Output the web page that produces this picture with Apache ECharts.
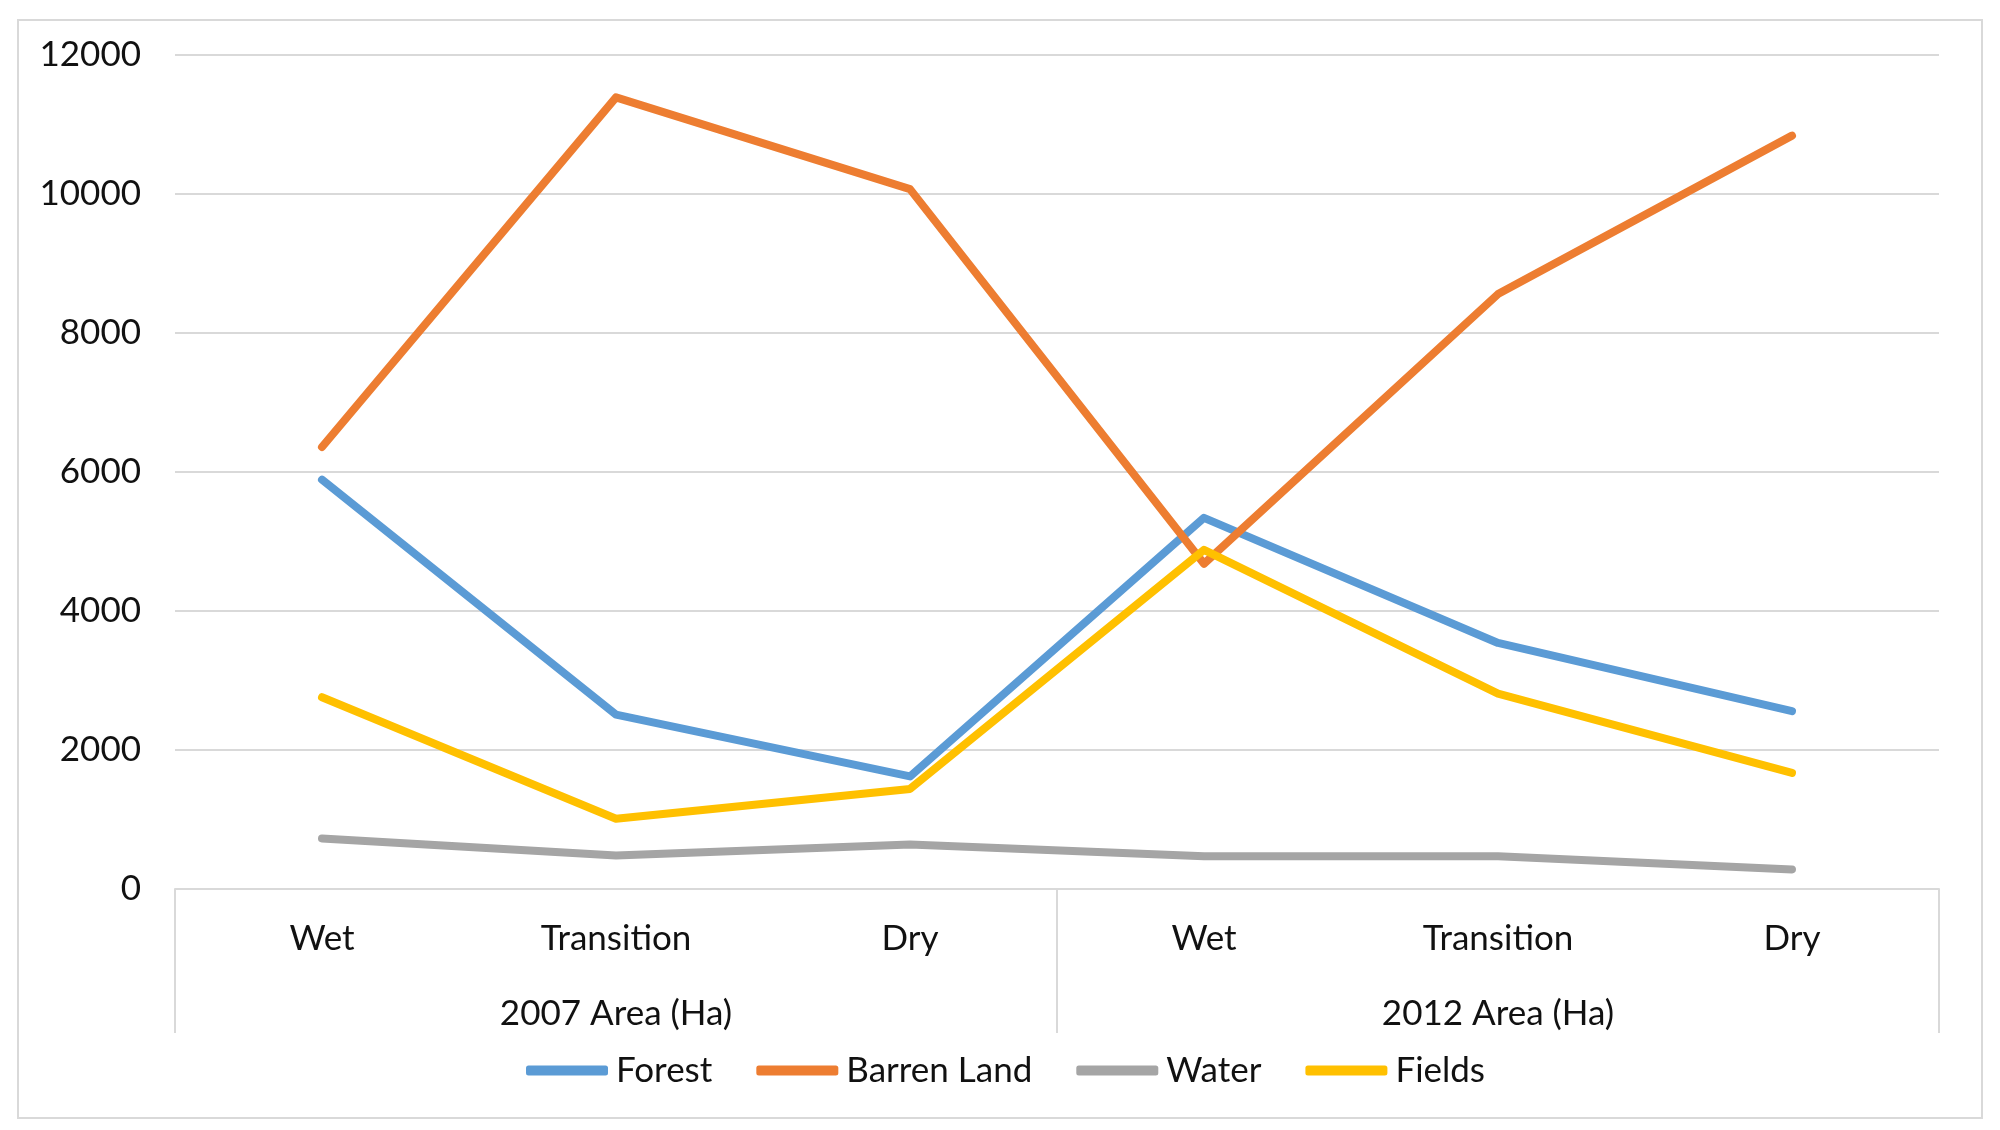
<!DOCTYPE html>
<html lang="en">
<head>
	<meta charset="UTF-8">
	<title>Area by season</title>
	<script src="https://cdn.jsdelivr.net/npm/echarts@6/dist/echarts.min.js"></script>
	<style>
		html, body{
			width: 100%;
			height: 100%;
			padding: 0;
			margin: 0;
			background: #fff;
		}
		#frame{
			position: absolute;
			left: 17px;
			top: 19px;
			width: 1962px;
			height: 1096px;
			border: 2px solid #d9d9d9;
		}
		#main{
			position: absolute;
			left: 0;
			top: 0;
			width: 2000px;
			height: 1130px;
		}
	</style>
</head>
<body>
	<div id="frame"></div>
	<div id="main"></div>
<script>
	// categories
	let seasons = ['Wet', 'Transition', 'Dry', 'Wet', 'Transition', 'Dry'];
	let groups = ['2007 Area (Ha)', '2012 Area (Ha)'];
	let yTicks = [0, 2000, 4000, 6000, 8000, 10000, 12000];

	// series values
	let forest = [5890, 2510, 1620, 5340, 3540, 2560];
	let barren = [6360, 11390, 10070, 4680, 8560, 10840];
	let water = [726, 482, 640, 470, 470, 282];
	let fields = [2760, 1010, 1440, 4880, 2810, 1670];

	let names = ['Forest', 'Barren Land', 'Water', 'Fields'];
	let colors = ['#5B9BD5', '#ED7D31', '#A5A5A5', '#FFC000'];
	let values = [forest, barren, water, fields];

	let font = 'Lato';
	let fs = 35;
	let myChart = echarts.init(document.getElementById('main'));

	myChart.setOption({
		animation: false,
		textStyle: { fontFamily: font },
		grid: {
			left: 175,
			right: 61,
			top: 55,
			bottom: 241
		},
		legend: {
			left: 521,
			top: 1048,
			itemWidth: 82,
			itemHeight: 10,
			itemGap: 44,
			icon: 'roundRect',
			data: names,
			textStyle: { fontFamily: font, fontSize: fs, color: '#111', padding: [0, 0, 0, 3] }
		},
		xAxis: [{
			type: 'category',
			data: seasons,
			position: 'bottom',
			axisLine: { lineStyle: { color: '#d9d9d9', width: 2 } },
			axisTick: { show: false },
			axisLabel: { margin: 32, fontSize: fs, color: '#111', fontFamily: font }
		}, {
			type: 'category',
			data: groups,
			position: 'bottom',
			axisLine: { show: false },
			axisTick: { show: true, length: 144, interval: 0, lineStyle: { color: '#d9d9d9', width: 2 } },
			axisLabel: { margin: 107, fontSize: fs, color: '#111', fontFamily: font },
			splitLine: { show: false }
		}],
		yAxis: {
			type: 'value',
			min: yTicks[0],
			max: yTicks[yTicks.length - 1],
			interval: 2000,
			axisLine: { show: false },
			axisTick: { show: false },
			axisLabel: {
				margin: 34, fontSize: fs, color: '#111', fontFamily: font,
				formatter: function(v){ return String(v); }
			},
			splitLine: { lineStyle: { color: '#d9d9d9', width: 2 } }
		},
		series: names.map((n, i) => ({
			name: n,
			type: 'line',
			xAxisIndex: 0,
			data: values[i],
			symbol: 'none',
			color: colors[i],
			lineStyle: { width: 8, color: colors[i], cap: 'round', join: 'round' }
		}))
	});
</script>
</body>
</html>
